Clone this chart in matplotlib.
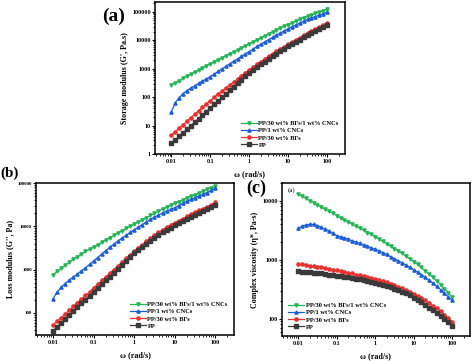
import numpy as np
import matplotlib
matplotlib.use('Agg')
import matplotlib.pyplot as plt
from matplotlib.ticker import LogLocator, NullFormatter, FuncFormatter

plt.rcParams['font.family'] = ['Liberation Serif', 'DejaVu Serif']
plt.rcParams['font.weight'] = 'bold'
plt.rcParams['axes.labelweight'] = 'bold'

# frequency sweep, 10 points per decade
omega = np.logspace(-2, 2, 41)

labels = ['PP/30 wt% BFs/1 wt% CNCs', 'PP/1 wt% CNCs', 'PP/30 wt% BFs', 'PP']
colors = ['#22b455', '#1c5ed8', '#e8312f', '#3a3a3a']
markers = ['v', '^', 'o', 's']

# log10 of the values
# (a) storage modulus G'
gp_bf_cnc = [2.42, 2.50, 2.58, 2.66, 2.73, 2.80, 2.88, 2.95, 3.02, 3.10, 3.17,
             3.24, 3.31, 3.38, 3.45, 3.52, 3.59, 3.66, 3.73, 3.80, 3.87,
             3.94, 4.01, 4.08, 4.15, 4.22, 4.29, 4.36, 4.42, 4.49, 4.55,
             4.61, 4.67, 4.73, 4.79, 4.84, 4.89, 4.94, 4.99, 5.04, 5.08]
gp_cnc = [1.48, 1.80, 1.98, 2.12, 2.23, 2.32, 2.40, 2.48, 2.56, 2.64, 2.72,
          2.81, 2.90, 2.99, 3.08, 3.17, 3.26, 3.34, 3.43, 3.52, 3.60,
          3.69, 3.78, 3.86, 3.94, 4.02, 4.10, 4.18, 4.25, 4.33, 4.40,
          4.47, 4.54, 4.60, 4.67, 4.73, 4.78, 4.83, 4.88, 4.93, 4.98]
gp_bf = [0.66, 0.78, 0.91, 1.03, 1.15, 1.28, 1.40, 1.52, 1.64, 1.76, 1.88,
         1.99, 2.10, 2.21, 2.32, 2.43, 2.53, 2.64, 2.75, 2.85, 2.95,
         3.05, 3.15, 3.25, 3.35, 3.44, 3.52, 3.61, 3.69, 3.77, 3.85,
         3.93, 4.01, 4.09, 4.17, 4.24, 4.31, 4.38, 4.45, 4.53, 4.60]
gp_pp = [0.37, 0.49, 0.62, 0.74, 0.87, 0.99, 1.12, 1.24, 1.37, 1.49, 1.62,
         1.74, 1.87, 1.99, 2.11, 2.24, 2.36, 2.48, 2.61, 2.73, 2.85,
         2.95, 3.05, 3.15, 3.25, 3.34, 3.43, 3.52, 3.61, 3.70, 3.78,
         3.86, 3.94, 4.02, 4.10, 4.17, 4.24, 4.31, 4.38, 4.45, 4.52]

# (b) loss modulus G''
gpp_bf_cnc = [2.88, 2.96, 3.03, 3.10, 3.17, 3.24, 3.30, 3.36, 3.42, 3.47, 3.52,
              3.58, 3.63, 3.69, 3.74, 3.79, 3.85, 3.90, 3.95, 4.00, 4.05,
              4.10, 4.15, 4.20, 4.25, 4.30, 4.35, 4.40, 4.44, 4.49, 4.53,
              4.57, 4.61, 4.65, 4.69, 4.73, 4.77, 4.81, 4.85, 4.89, 4.92]
gpp_cnc = [2.33, 2.48, 2.59, 2.68, 2.76, 2.83, 2.90, 2.97, 3.04, 3.12, 3.20,
           3.28, 3.36, 3.44, 3.52, 3.59, 3.66, 3.73, 3.79, 3.86, 3.92,
           3.98, 4.04, 4.10, 4.16, 4.21, 4.26, 4.31, 4.35, 4.39, 4.43,
           4.48, 4.53, 4.58, 4.62, 4.66, 4.70, 4.74, 4.78, 4.83, 4.88]
gpp_bf = [1.72, 1.81, 1.89, 1.98, 2.07, 2.15, 2.24, 2.32, 2.41, 2.49, 2.58,
          2.66, 2.75, 2.83, 2.92, 3.00, 3.09, 3.17, 3.26, 3.34, 3.42,
          3.50, 3.57, 3.65, 3.72, 3.79, 3.86, 3.92, 3.98, 4.03, 4.08,
          4.13, 4.18, 4.23, 4.28, 4.33, 4.37, 4.41, 4.45, 4.50, 4.55]
gpp_pp = [1.59, 1.68, 1.77, 1.86, 1.95, 2.04, 2.13, 2.22, 2.31, 2.40, 2.48,
          2.57, 2.66, 2.75, 2.84, 2.93, 3.02, 3.11, 3.20, 3.29, 3.38,
          3.46, 3.53, 3.60, 3.67, 3.74, 3.80, 3.86, 3.91, 3.97, 4.02,
          4.07, 4.12, 4.17, 4.22, 4.27, 4.31, 4.35, 4.40, 4.45, 4.49]

# (c) complex viscosity eta*
eta_bf_cnc = [4.11, 4.08, 4.04, 4.00, 3.97, 3.93, 3.89, 3.86, 3.82, 3.79, 3.75,
              3.71, 3.68, 3.64, 3.61, 3.57, 3.54, 3.50, 3.46, 3.43, 3.39,
              3.35, 3.31, 3.27, 3.23, 3.19, 3.15, 3.11, 3.06, 3.02, 2.97,
              2.92, 2.87, 2.81, 2.76, 2.70, 2.64, 2.58, 2.51, 2.44, 2.37]
eta_cnc = [3.53, 3.57, 3.59, 3.60, 3.60, 3.58, 3.55, 3.52, 3.49, 3.45, 3.41,
           3.39, 3.37, 3.35, 3.32, 3.30, 3.28, 3.25, 3.23, 3.20, 3.18,
           3.15, 3.12, 3.09, 3.05, 3.02, 2.98, 2.95, 2.91, 2.87, 2.83,
           2.79, 2.75, 2.70, 2.65, 2.60, 2.55, 2.49, 2.43, 2.37, 2.31]
eta_bf = [2.93, 2.92, 2.91, 2.90, 2.89, 2.88, 2.87, 2.86, 2.85, 2.83, 2.82,
          2.81, 2.80, 2.78, 2.77, 2.75, 2.74, 2.72, 2.71, 2.69, 2.68,
          2.66, 2.64, 2.62, 2.59, 2.57, 2.54, 2.52, 2.49, 2.46, 2.42,
          2.39, 2.35, 2.31, 2.27, 2.22, 2.18, 2.13, 2.07, 2.01, 1.95]
eta_pp = [2.81, 2.80, 2.79, 2.79, 2.78, 2.77, 2.77, 2.76, 2.75, 2.74, 2.73,
          2.72, 2.71, 2.70, 2.69, 2.68, 2.67, 2.66, 2.64, 2.63, 2.61,
          2.59, 2.57, 2.55, 2.53, 2.51, 2.48, 2.46, 2.43, 2.40, 2.36,
          2.32, 2.28, 2.24, 2.19, 2.15, 2.10, 2.05, 2.00, 1.94, 1.87]


def draw_panel(ax, series, ylabel, ylim, legend_loc, ytick_size=4.4):
    for vals, lab, col, mk in zip(series, labels, colors, markers):
        ax.plot(omega, np.power(10.0, vals), color=col, marker=mk, ms=2.3,
                lw=0.9, label=lab)
    ax.set_xscale('log')
    ax.set_yscale('log')
    ax.set_xlim(0.0038, 290)
    ax.set_ylim(ylim)
    ax.set_xticks([0.01, 0.1, 1, 10, 100])
    ax.xaxis.set_major_formatter(FuncFormatter(lambda v, p: '%g' % v))
    ax.yaxis.set_major_formatter(FuncFormatter(lambda v, p: '%d' % round(v)))
    for axis in (ax.xaxis, ax.yaxis):
        axis.set_minor_locator(LogLocator(base=10, subs=np.arange(2, 10), numticks=20))
        axis.set_minor_formatter(NullFormatter())
    ax.tick_params(which='major', labelsize=4.4, length=2.2, width=0.8, pad=1.5)
    ax.tick_params(axis='y', which='major', labelsize=ytick_size, pad=0.9)
    ax.tick_params(which='minor', length=1.3, width=0.6)
    for lbl in ax.get_xticklabels() + ax.get_yticklabels():
        lbl.set_fontweight('bold')
    for sp in ax.spines.values():
        sp.set_linewidth(1.1)
    ax.set_xlabel('ω (rad/s)', fontsize=5.8, fontweight='bold', labelpad=4)
    ax.set_ylabel(ylabel, fontsize=5.8, fontweight='bold', labelpad=2)
    ax.legend(loc=legend_loc, frameon=False, handlelength=2.4,
              labelspacing=0.25, borderaxespad=0.6, handletextpad=0.3,
              prop={'weight': 'bold', 'size': 4.6})


fig = plt.figure(figsize=(4.74, 3.61), dpi=100)

ax_a = fig.add_axes([155 / 474, 1 - 154 / 361, 190 / 474, 152 / 361])
draw_panel(ax_a, [gp_bf_cnc, gp_cnc, gp_bf, gp_pp],
           "Storage modulus (G', Pa.s)", (1, 2.2e5), 'lower right')

ax_b = fig.add_axes([36 / 474, 1 - 335 / 361, 198 / 474, 152 / 361])
draw_panel(ax_b, [gpp_bf_cnc, gpp_cnc, gpp_bf, gpp_pp],
           "Loss modulus (G'', Pa)", (31, 1e5), 'lower right', ytick_size=3.5)

ax_c = fig.add_axes([282 / 474, 1 - 336 / 361, 188 / 474, 153 / 361])
draw_panel(ax_c, [eta_bf_cnc, eta_cnc, eta_bf, eta_pp],
           'Complex viscosity (η*, Pa-s)', (51, 20000), 'lower left')
ax_c.text(0.03, 0.97, '(a)', transform=ax_c.transAxes, fontsize=5,
          fontweight='normal', va='top', ha='left')

fig.text(114 / 474, 1 - 16 / 361, '(a)', fontsize=14, fontweight='bold', ha='center', va='center')
fig.text(0, 1 - 173 / 361, '(b)', fontsize=11, fontweight='bold', ha='left', va='center')
fig.text(256 / 474, 1 - 188 / 361, '(c)', fontsize=13, fontweight='bold', ha='center', va='center')

fig.savefig('out.png', dpi=100)
